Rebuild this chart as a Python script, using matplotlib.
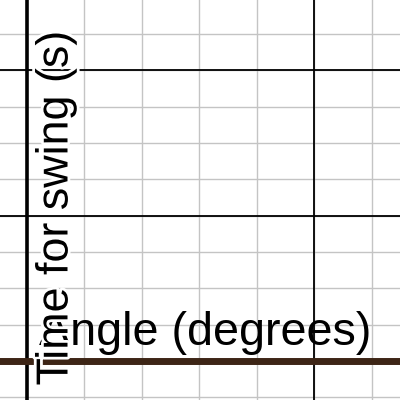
import numpy as np
import matplotlib.pyplot as plt
import matplotlib.patheffects as pe

plt.rcParams['font.family'] = ['Liberation Sans', 'DejaVu Sans']

# data: a single flat series along the x axis
line_x = [-1, 7]
line_y = [0, 0]
x_label = 'Angle (degrees)'
y_label = 'Time for swing (s)'

fig = plt.figure(figsize=(4, 4), dpi=100)
ax = fig.add_axes([0, 0, 1, 1])
ax.set_xlim(-0.47, 6.49)
ax.set_ylim(-1.07, 9.94)

# minor grid
for x in np.arange(1, 7):
    ax.axvline(x, color='#c4c4c4', lw=1, zorder=0)
for y in np.arange(-1, 10):
    ax.axhline(y, color='#c4c4c4', lw=1, zorder=0)
# major grid
ax.axvline(5, color='black', lw=1.3, zorder=1)
for y in [4, 8]:
    ax.axhline(y, color='black', lw=1.3, zorder=1)
ax.axvline(0, color='black', lw=2.6, zorder=2)

ax.plot(line_x, line_y, color='#3d2516', lw=5, zorder=3)
ax.axis('off')

fig.text(39 / 400, 1 - 345 / 400, x_label, fontsize=33.7, ha='left', va='baseline', zorder=4)
fig.text(56 / 400, 1 - 208 / 400, y_label, fontsize=32.3, rotation=90,
         ha='center', va='center', zorder=5,
         path_effects=[pe.withStroke(linewidth=4, foreground='white')])

fig.savefig('out.png', dpi=100)
